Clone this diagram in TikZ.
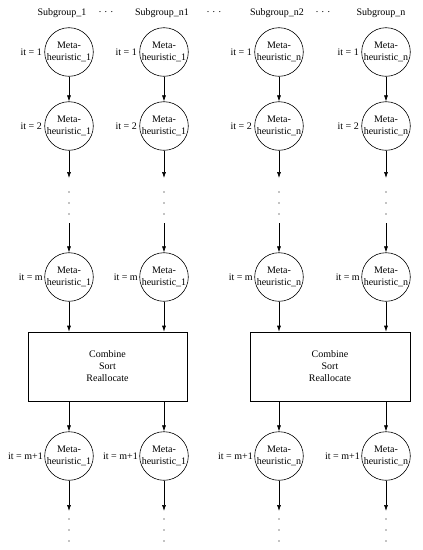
\documentclass[tikz,border=0pt]{standalone}
\usepackage{fontspec}
\setmainfont{Liberation Serif}
\usetikzlibrary{arrows.meta}
\tikzset{
	meta/.style={draw,circle,minimum size=48pt,inner sep=0pt,align=center},
	combbox/.style={draw,minimum width=159pt,minimum height=69pt,align=center},
	arr/.style={-{Latex[length=6pt,width=4pt]}}
}

\begin{document}
\begin{tikzpicture}[x=1pt,y=-1pt,line width=0.6pt,font=\fontsize{10}{12}\selectfont]
\useasboundingbox (0,0) rectangle (423,550);

% headers
\node (sg1) at (62,13) {Subgroup\_1};
\node (sgn1) at (162,13) {Subgroup\_n1};
\node (sgn2) at (277,13) {Subgroup\_n2};
\node (sgn) at (381,13) {Subgroup\_n};
\node (dots1) at (106,12) {. . .};
\node (dots2) at (214,12) {. . .};
\node (dots3) at (323,12) {. . .};

% the two combine boxes
\node[combbox] (boxL) at (107.5,366.5) {Combine\\Sort\\Reallocate};
\node[combbox,minimum width=160pt] (boxR) at (330,366.5) {Combine\\Sort\\Reallocate};

\foreach \x/\col/\s/\bx in {69/a/1/boxL,164/b/1/boxL,279/c/n/boxR,386/d/n/boxR}{
	\node[meta,label={[label distance=-1pt]left:it = 1}] (\col-1) at (\x,52) {Meta-\\heuristic\_\s};
	\node[meta,label={[label distance=-1pt]left:it = 2}] (\col-2) at (\x,126) {Meta-\\heuristic\_\s};
	\node[meta,label={[label distance=-2pt]left:it = m}] (\col-m) at (\x,277) {Meta-\\heuristic\_\s};
	\node[meta,label={[label distance=-2pt]left:it = m+1}] (\col-m1) at (\x,456) {Meta-\\heuristic\_\s};
	\coordinate (\col-e2) at (\x,178);
	\coordinate (\col-sm) at (\x,223);
	\coordinate (\col-e3) at (\x,511);

	\draw[arr] (\col-1) -- (\col-2);
	\draw[arr] (\col-2) -- (\col-e2);
	\draw[arr] (\col-sm) -- (\col-m);
	\draw[arr] (\col-m) -- (\col-m |- \bx.north);
	\draw[arr] (\col-m1 |- \bx.south) -- (\col-m1);
	\draw[arr] (\col-m1) -- (\col-e3);

	\foreach \y in {192,203,214,519,530,541}
		\fill (\x,\y) circle (0.6pt);
}
\end{tikzpicture}
\end{document}
